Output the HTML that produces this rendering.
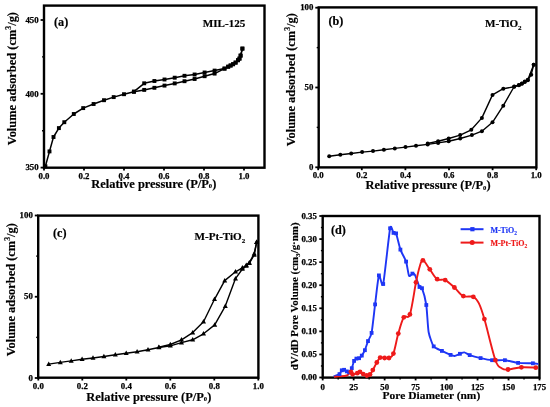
<!DOCTYPE html>
<html><head><meta charset="utf-8"><style>
html,body{margin:0;padding:0;background:#fff;}
body{width:550px;height:407px;overflow:hidden;}
svg{display:block;}
text{font-family:"Liberation Serif", "Times New Roman", serif;font-weight:bold;}
</style></head><body>
<svg width="550" height="407" viewBox="0 0 550 407">
<rect width="550" height="407" fill="#fff"/>
<rect x="44" y="5.6" width="220.5" height="162.1" fill="none" stroke="#000" stroke-width="2.4"/>
<line x1="44" y1="167.7" x2="44" y2="170.5" stroke="#000" stroke-width="1.8"/>
<text x="44" y="179" font-size="8.8" text-anchor="middle" fill="#000"  stroke="#000" stroke-width="0.25">0.0</text>
<line x1="84" y1="167.7" x2="84" y2="170.5" stroke="#000" stroke-width="1.8"/>
<text x="84" y="179" font-size="8.8" text-anchor="middle" fill="#000"  stroke="#000" stroke-width="0.25">0.2</text>
<line x1="124" y1="167.7" x2="124" y2="170.5" stroke="#000" stroke-width="1.8"/>
<text x="124" y="179" font-size="8.8" text-anchor="middle" fill="#000"  stroke="#000" stroke-width="0.25">0.4</text>
<line x1="164" y1="167.7" x2="164" y2="170.5" stroke="#000" stroke-width="1.8"/>
<text x="164" y="179" font-size="8.8" text-anchor="middle" fill="#000"  stroke="#000" stroke-width="0.25">0.6</text>
<line x1="204" y1="167.7" x2="204" y2="170.5" stroke="#000" stroke-width="1.8"/>
<text x="204" y="179" font-size="8.8" text-anchor="middle" fill="#000"  stroke="#000" stroke-width="0.25">0.8</text>
<line x1="244" y1="167.7" x2="244" y2="170.5" stroke="#000" stroke-width="1.8"/>
<text x="244" y="179" font-size="8.8" text-anchor="middle" fill="#000"  stroke="#000" stroke-width="0.25">1.0</text>
<line x1="40.6" y1="167.6" x2="44" y2="167.6" stroke="#000" stroke-width="1.8"/>
<text x="38.6" y="170.4" font-size="8.8" text-anchor="end" fill="#000"  stroke="#000" stroke-width="0.25">350</text>
<line x1="40.6" y1="93.8" x2="44" y2="93.8" stroke="#000" stroke-width="1.8"/>
<text x="38.6" y="96.6" font-size="8.8" text-anchor="end" fill="#000"  stroke="#000" stroke-width="0.25">400</text>
<line x1="40.6" y1="20" x2="44" y2="20" stroke="#000" stroke-width="1.8"/>
<text x="38.6" y="22.8" font-size="8.8" text-anchor="end" fill="#000"  stroke="#000" stroke-width="0.25">450</text>
<line x1="42" y1="130.7" x2="44" y2="130.7" stroke="#000" stroke-width="1.4"/>
<line x1="42" y1="56.9" x2="44" y2="56.9" stroke="#000" stroke-width="1.4"/>
<text transform="translate(91.3,187.7) scale(1.072,1)" font-size="11.6" fill="#000" stroke="#000" stroke-width="0.15">Relative pressure (P/P<tspan font-size="6.2" dy="0.6">0</tspan><tspan dy="-0.6">)</tspan></text>
<text transform="translate(16.2,145.2) rotate(-90) scale(1.072,1)" font-size="11.6" fill="#000" stroke="#000" stroke-width="0.15">Volume adsorbed (cm<tspan font-size="7.2" dy="-5.2">3</tspan><tspan dy="5.2">/g)</tspan></text>
<text x="54" y="26.4" font-size="12.2" text-anchor="start" fill="#000"  stroke="#000" stroke-width="0.18">(a)</text>
<text x="202.8" y="26.8" font-size="11.1" text-anchor="start" fill="#000"  stroke="#000" stroke-width="0.18">MIL-125</text>
<polyline points="45.4,166.3 49.5,151.4 53.5,137 58.9,128.1 64.3,122.2 73.8,114 83.2,108.1 93.6,104 104,100.2 113.7,97.1 124,94.2 133.9,91.8 144.2,89.9 154.4,87.8 164.5,85.6 174.7,83.4 184.5,81.2 194.6,79 204.6,76.2 214.6,73.6 224.5,68.6 228.2,66.7 230.6,65.5 233.1,64.2 235.6,62.6 238,60.2 239.5,58.6 240.6,55.6 242.4,48.6" fill="none" stroke="#000" stroke-width="1.5" stroke-linejoin="round"/>
<polyline points="242.4,48.6 240.6,55.6 239.5,58.6 238,60.2 235.6,62.6 233.1,64.2 230.6,65.5 228.2,66.7 224.5,68.6 214.6,70.6 204.6,72.5 194.6,74.5 184.5,75.8 174.7,77.7 164.5,79.5 154.4,81 144.2,83.3 133.9,91.6" fill="none" stroke="#000" stroke-width="1.5" stroke-linejoin="round"/>
<rect x="43.45" y="164.35" width="3.9" height="3.9" fill="#000"/>
<rect x="47.55" y="149.45" width="3.9" height="3.9" fill="#000"/>
<rect x="51.55" y="135.05" width="3.9" height="3.9" fill="#000"/>
<rect x="56.95" y="126.15" width="3.9" height="3.9" fill="#000"/>
<rect x="62.35" y="120.25" width="3.9" height="3.9" fill="#000"/>
<rect x="71.85" y="112.05" width="3.9" height="3.9" fill="#000"/>
<rect x="81.25" y="106.15" width="3.9" height="3.9" fill="#000"/>
<rect x="91.65" y="102.05" width="3.9" height="3.9" fill="#000"/>
<rect x="102.05" y="98.25" width="3.9" height="3.9" fill="#000"/>
<rect x="111.75" y="95.15" width="3.9" height="3.9" fill="#000"/>
<rect x="122.05" y="92.25" width="3.9" height="3.9" fill="#000"/>
<rect x="131.95" y="89.85" width="3.9" height="3.9" fill="#000"/>
<rect x="142.25" y="87.95" width="3.9" height="3.9" fill="#000"/>
<rect x="152.45" y="85.85" width="3.9" height="3.9" fill="#000"/>
<rect x="162.55" y="83.65" width="3.9" height="3.9" fill="#000"/>
<rect x="172.75" y="81.45" width="3.9" height="3.9" fill="#000"/>
<rect x="182.55" y="79.25" width="3.9" height="3.9" fill="#000"/>
<rect x="192.65" y="77.05" width="3.9" height="3.9" fill="#000"/>
<rect x="202.65" y="74.25" width="3.9" height="3.9" fill="#000"/>
<rect x="212.65" y="71.65" width="3.9" height="3.9" fill="#000"/>
<rect x="222.55" y="66.65" width="3.9" height="3.9" fill="#000"/>
<rect x="226.25" y="64.75" width="3.9" height="3.9" fill="#000"/>
<rect x="228.65" y="63.55" width="3.9" height="3.9" fill="#000"/>
<rect x="231.15" y="62.25" width="3.9" height="3.9" fill="#000"/>
<rect x="233.65" y="60.65" width="3.9" height="3.9" fill="#000"/>
<rect x="236.05" y="58.25" width="3.9" height="3.9" fill="#000"/>
<rect x="237.55" y="56.65" width="3.9" height="3.9" fill="#000"/>
<rect x="238.65" y="53.65" width="3.9" height="3.9" fill="#000"/>
<rect x="240.45" y="46.65" width="3.9" height="3.9" fill="#000"/>
<rect x="240.45" y="46.65" width="3.9" height="3.9" fill="#000"/>
<rect x="238.65" y="53.65" width="3.9" height="3.9" fill="#000"/>
<rect x="237.55" y="56.65" width="3.9" height="3.9" fill="#000"/>
<rect x="236.05" y="58.25" width="3.9" height="3.9" fill="#000"/>
<rect x="233.65" y="60.65" width="3.9" height="3.9" fill="#000"/>
<rect x="231.15" y="62.25" width="3.9" height="3.9" fill="#000"/>
<rect x="228.65" y="63.55" width="3.9" height="3.9" fill="#000"/>
<rect x="226.25" y="64.75" width="3.9" height="3.9" fill="#000"/>
<rect x="222.55" y="66.65" width="3.9" height="3.9" fill="#000"/>
<rect x="212.65" y="68.65" width="3.9" height="3.9" fill="#000"/>
<rect x="202.65" y="70.55" width="3.9" height="3.9" fill="#000"/>
<rect x="192.65" y="72.55" width="3.9" height="3.9" fill="#000"/>
<rect x="182.55" y="73.85" width="3.9" height="3.9" fill="#000"/>
<rect x="172.75" y="75.75" width="3.9" height="3.9" fill="#000"/>
<rect x="162.55" y="77.55" width="3.9" height="3.9" fill="#000"/>
<rect x="152.45" y="79.05" width="3.9" height="3.9" fill="#000"/>
<rect x="142.25" y="81.35" width="3.9" height="3.9" fill="#000"/>
<rect x="131.95" y="89.65" width="3.9" height="3.9" fill="#000"/>
<rect x="318.7" y="7.4" width="217.7" height="160" fill="none" stroke="#000" stroke-width="2.4"/>
<line x1="318.2" y1="167.4" x2="318.2" y2="170.2" stroke="#000" stroke-width="1.8"/>
<text x="318.2" y="178.4" font-size="8.8" text-anchor="middle" fill="#000"  stroke="#000" stroke-width="0.25">0.0</text>
<line x1="361.8" y1="167.4" x2="361.8" y2="170.2" stroke="#000" stroke-width="1.8"/>
<text x="361.8" y="178.4" font-size="8.8" text-anchor="middle" fill="#000"  stroke="#000" stroke-width="0.25">0.2</text>
<line x1="405.4" y1="167.4" x2="405.4" y2="170.2" stroke="#000" stroke-width="1.8"/>
<text x="405.4" y="178.4" font-size="8.8" text-anchor="middle" fill="#000"  stroke="#000" stroke-width="0.25">0.4</text>
<line x1="449" y1="167.4" x2="449" y2="170.2" stroke="#000" stroke-width="1.8"/>
<text x="449" y="178.4" font-size="8.8" text-anchor="middle" fill="#000"  stroke="#000" stroke-width="0.25">0.6</text>
<line x1="492.6" y1="167.4" x2="492.6" y2="170.2" stroke="#000" stroke-width="1.8"/>
<text x="492.6" y="178.4" font-size="8.8" text-anchor="middle" fill="#000"  stroke="#000" stroke-width="0.25">0.8</text>
<line x1="536.2" y1="167.4" x2="536.2" y2="170.2" stroke="#000" stroke-width="1.8"/>
<text x="536.2" y="178.4" font-size="8.8" text-anchor="middle" fill="#000"  stroke="#000" stroke-width="0.25">1.0</text>
<line x1="315.3" y1="167.3" x2="318.7" y2="167.3" stroke="#000" stroke-width="1.8"/>
<text x="313.4" y="169.7" font-size="8.8" text-anchor="end" fill="#000"  stroke="#000" stroke-width="0.25">0</text>
<line x1="315.3" y1="87.5" x2="318.7" y2="87.5" stroke="#000" stroke-width="1.8"/>
<text x="313.4" y="89.9" font-size="8.8" text-anchor="end" fill="#000"  stroke="#000" stroke-width="0.25">50</text>
<line x1="315.3" y1="7.7" x2="318.7" y2="7.7" stroke="#000" stroke-width="1.8"/>
<text x="313.4" y="10.1" font-size="8.8" text-anchor="end" fill="#000"  stroke="#000" stroke-width="0.25">100</text>
<line x1="316.7" y1="127.4" x2="318.7" y2="127.4" stroke="#000" stroke-width="1.4"/>
<line x1="316.7" y1="47.6" x2="318.7" y2="47.6" stroke="#000" stroke-width="1.4"/>
<text transform="translate(365.5,189.2) scale(1.072,1)" font-size="11.6" fill="#000" stroke="#000" stroke-width="0.15">Relative pressure (P/P<tspan font-size="6.2" dy="0.6">0</tspan><tspan dy="-0.6">)</tspan></text>
<text transform="translate(295.4,146.3) rotate(-90) scale(1.072,1)" font-size="11.6" fill="#000" stroke="#000" stroke-width="0.15">Volume adsorbed (cm<tspan font-size="7.2" dy="-5.2">3</tspan><tspan dy="5.2">/g)</tspan></text>
<text x="328.4" y="25.2" font-size="12.2" text-anchor="start" fill="#000"  stroke="#000" stroke-width="0.18">(b)</text>
<text x="485" y="26.9" font-size="11.1" text-anchor="start" fill="#000"  stroke="#000" stroke-width="0.18">M-TiO<tspan font-size="7" dy="3">2</tspan></text>
<polyline points="329.2,156.3 340.3,154.8 351.2,153.5 362.1,152.1 373,151.1 383.9,149.7 394.8,148.4 405.5,147.1 416,145.8 427.7,144.4 438.1,142.9 448.7,141.3 460.2,138.5 471.9,135.1 481.9,131.2 492.5,122.3 503.3,105.7 514.2,86.5 518.9,85 521.9,83.5 524.8,81.6 527.8,79.8 533.7,64.8" fill="none" stroke="#000" stroke-width="1.4" stroke-linejoin="round"/>
<polyline points="533.7,64.8 531.2,74.7 527.8,80.2 524.8,81.9 521.9,83.8 518.9,85.3 514.2,86.7 503.3,88.7 492.5,94.9 481.9,117.9 471.3,129.8 460.2,135.1 448.7,138.5 438.1,141.3 427.7,143.4" fill="none" stroke="#000" stroke-width="1.4" stroke-linejoin="round"/>
<circle cx="329.2" cy="156.3" r="2.0" fill="#000"/>
<circle cx="340.3" cy="154.8" r="2.0" fill="#000"/>
<circle cx="351.2" cy="153.5" r="2.0" fill="#000"/>
<circle cx="362.1" cy="152.1" r="2.0" fill="#000"/>
<circle cx="373" cy="151.1" r="2.0" fill="#000"/>
<circle cx="383.9" cy="149.7" r="2.0" fill="#000"/>
<circle cx="394.8" cy="148.4" r="2.0" fill="#000"/>
<circle cx="405.5" cy="147.1" r="2.0" fill="#000"/>
<circle cx="416" cy="145.8" r="2.0" fill="#000"/>
<circle cx="427.7" cy="144.4" r="2.0" fill="#000"/>
<circle cx="438.1" cy="142.9" r="2.0" fill="#000"/>
<circle cx="448.7" cy="141.3" r="2.0" fill="#000"/>
<circle cx="460.2" cy="138.5" r="2.0" fill="#000"/>
<circle cx="471.9" cy="135.1" r="2.0" fill="#000"/>
<circle cx="481.9" cy="131.2" r="2.0" fill="#000"/>
<circle cx="492.5" cy="122.3" r="2.0" fill="#000"/>
<circle cx="503.3" cy="105.7" r="2.0" fill="#000"/>
<circle cx="514.2" cy="86.5" r="2.0" fill="#000"/>
<circle cx="518.9" cy="85" r="2.0" fill="#000"/>
<circle cx="521.9" cy="83.5" r="2.0" fill="#000"/>
<circle cx="524.8" cy="81.6" r="2.0" fill="#000"/>
<circle cx="527.8" cy="79.8" r="2.0" fill="#000"/>
<circle cx="533.7" cy="64.8" r="2.0" fill="#000"/>
<circle cx="533.7" cy="64.8" r="2.0" fill="#000"/>
<circle cx="531.2" cy="74.7" r="2.0" fill="#000"/>
<circle cx="527.8" cy="80.2" r="2.0" fill="#000"/>
<circle cx="524.8" cy="81.9" r="2.0" fill="#000"/>
<circle cx="521.9" cy="83.8" r="2.0" fill="#000"/>
<circle cx="518.9" cy="85.3" r="2.0" fill="#000"/>
<circle cx="514.2" cy="86.7" r="2.0" fill="#000"/>
<circle cx="503.3" cy="88.7" r="2.0" fill="#000"/>
<circle cx="492.5" cy="94.9" r="2.0" fill="#000"/>
<circle cx="481.9" cy="117.9" r="2.0" fill="#000"/>
<circle cx="471.3" cy="129.8" r="2.0" fill="#000"/>
<circle cx="460.2" cy="135.1" r="2.0" fill="#000"/>
<circle cx="448.7" cy="138.5" r="2.0" fill="#000"/>
<circle cx="438.1" cy="141.3" r="2.0" fill="#000"/>
<circle cx="427.7" cy="143.4" r="2.0" fill="#000"/>
<rect x="38.2" y="215.6" width="220.2" height="162.1" fill="none" stroke="#000" stroke-width="2.4"/>
<line x1="38.3" y1="377.7" x2="38.3" y2="380.5" stroke="#000" stroke-width="1.8"/>
<text x="38.3" y="388.9" font-size="8.8" text-anchor="middle" fill="#000"  stroke="#000" stroke-width="0.25">0.0</text>
<line x1="82.3" y1="377.7" x2="82.3" y2="380.5" stroke="#000" stroke-width="1.8"/>
<text x="82.3" y="388.9" font-size="8.8" text-anchor="middle" fill="#000"  stroke="#000" stroke-width="0.25">0.2</text>
<line x1="126.3" y1="377.7" x2="126.3" y2="380.5" stroke="#000" stroke-width="1.8"/>
<text x="126.3" y="388.9" font-size="8.8" text-anchor="middle" fill="#000"  stroke="#000" stroke-width="0.25">0.4</text>
<line x1="170.3" y1="377.7" x2="170.3" y2="380.5" stroke="#000" stroke-width="1.8"/>
<text x="170.3" y="388.9" font-size="8.8" text-anchor="middle" fill="#000"  stroke="#000" stroke-width="0.25">0.6</text>
<line x1="214.3" y1="377.7" x2="214.3" y2="380.5" stroke="#000" stroke-width="1.8"/>
<text x="214.3" y="388.9" font-size="8.8" text-anchor="middle" fill="#000"  stroke="#000" stroke-width="0.25">0.8</text>
<line x1="258.3" y1="377.7" x2="258.3" y2="380.5" stroke="#000" stroke-width="1.8"/>
<text x="258.3" y="388.9" font-size="8.8" text-anchor="middle" fill="#000"  stroke="#000" stroke-width="0.25">1.0</text>
<line x1="34.8" y1="378" x2="38.2" y2="378" stroke="#000" stroke-width="1.8"/>
<text x="32.8" y="380.6" font-size="8.8" text-anchor="end" fill="#000"  stroke="#000" stroke-width="0.25">0</text>
<line x1="34.8" y1="296.75" x2="38.2" y2="296.75" stroke="#000" stroke-width="1.8"/>
<text x="32.8" y="299.35" font-size="8.8" text-anchor="end" fill="#000"  stroke="#000" stroke-width="0.25">50</text>
<line x1="34.8" y1="215.5" x2="38.2" y2="215.5" stroke="#000" stroke-width="1.8"/>
<text x="32.8" y="218.1" font-size="8.8" text-anchor="end" fill="#000"  stroke="#000" stroke-width="0.25">100</text>
<line x1="36.2" y1="337.38" x2="38.2" y2="337.38" stroke="#000" stroke-width="1.4"/>
<line x1="36.2" y1="256.12" x2="38.2" y2="256.12" stroke="#000" stroke-width="1.4"/>
<text transform="translate(86.3,400.8) scale(1.072,1)" font-size="11.6" fill="#000" stroke="#000" stroke-width="0.15">Relative pressure (P/P<tspan font-size="6.2" dy="0.6">0</tspan><tspan dy="-0.6">)</tspan></text>
<text transform="translate(15,356.3) rotate(-90) scale(1.072,1)" font-size="11.6" fill="#000" stroke="#000" stroke-width="0.15">Volume adsorbed (cm<tspan font-size="7.2" dy="-5.2">3</tspan><tspan dy="5.2">/g)</tspan></text>
<text x="53" y="237" font-size="12.2" text-anchor="start" fill="#000"  stroke="#000" stroke-width="0.18">(c)</text>
<text x="194.5" y="239.7" font-size="11.1" text-anchor="start" fill="#000"  stroke="#000" stroke-width="0.18">M-Pt-TiO<tspan font-size="7" dy="3">2</tspan></text>
<polyline points="48.7,364.1 60.3,362.4 71.2,360.9 82.1,359.3 93,358 103.9,356.5 115.3,354.8 126.2,353.2 137.1,351.7 148,349.7 158.9,347.5 170.3,345.8 181.5,342.7 192.7,339.8 203.5,333.8 214.7,324.9 225.3,306.1 235.5,278.6 242.4,269 246.3,266 249.3,263.3 254.2,255 256.6,242.3" fill="none" stroke="#000" stroke-width="1.4" stroke-linejoin="round"/>
<polyline points="256.6,242.3 254.2,253.7 249.3,262.7 246.3,265.3 242.4,267.8 235.5,271.8 224.7,280.6 214.5,299.3 203.5,321.8 192.7,332.6 181.5,339.8 170.3,344.5 158.9,347.1" fill="none" stroke="#000" stroke-width="1.4" stroke-linejoin="round"/>
<polygon points="46.2,365.9 51.2,365.9 48.7,361.4" fill="#000"/>
<polygon points="57.8,364.2 62.8,364.2 60.3,359.7" fill="#000"/>
<polygon points="68.7,362.7 73.7,362.7 71.2,358.2" fill="#000"/>
<polygon points="79.6,361.1 84.6,361.1 82.1,356.6" fill="#000"/>
<polygon points="90.5,359.8 95.5,359.8 93,355.3" fill="#000"/>
<polygon points="101.4,358.3 106.4,358.3 103.9,353.8" fill="#000"/>
<polygon points="112.8,356.6 117.8,356.6 115.3,352.1" fill="#000"/>
<polygon points="123.7,355 128.7,355 126.2,350.5" fill="#000"/>
<polygon points="134.6,353.5 139.6,353.5 137.1,349" fill="#000"/>
<polygon points="145.5,351.5 150.5,351.5 148,347" fill="#000"/>
<polygon points="156.4,349.3 161.4,349.3 158.9,344.8" fill="#000"/>
<polygon points="167.8,347.6 172.8,347.6 170.3,343.1" fill="#000"/>
<polygon points="179,344.5 184,344.5 181.5,340" fill="#000"/>
<polygon points="190.2,341.6 195.2,341.6 192.7,337.1" fill="#000"/>
<polygon points="201,335.6 206,335.6 203.5,331.1" fill="#000"/>
<polygon points="212.2,326.7 217.2,326.7 214.7,322.2" fill="#000"/>
<polygon points="222.8,307.9 227.8,307.9 225.3,303.4" fill="#000"/>
<polygon points="233,280.4 238,280.4 235.5,275.9" fill="#000"/>
<polygon points="239.9,270.8 244.9,270.8 242.4,266.3" fill="#000"/>
<polygon points="243.8,267.8 248.8,267.8 246.3,263.3" fill="#000"/>
<polygon points="246.8,265.1 251.8,265.1 249.3,260.6" fill="#000"/>
<polygon points="251.7,256.8 256.7,256.8 254.2,252.3" fill="#000"/>
<polygon points="254.1,244.1 259.1,244.1 256.6,239.6" fill="#000"/>
<polygon points="254.1,244.1 259.1,244.1 256.6,239.6" fill="#000"/>
<polygon points="251.7,255.5 256.7,255.5 254.2,251" fill="#000"/>
<polygon points="246.8,264.5 251.8,264.5 249.3,260" fill="#000"/>
<polygon points="243.8,267.1 248.8,267.1 246.3,262.6" fill="#000"/>
<polygon points="239.9,269.6 244.9,269.6 242.4,265.1" fill="#000"/>
<polygon points="233,273.6 238,273.6 235.5,269.1" fill="#000"/>
<polygon points="222.2,282.4 227.2,282.4 224.7,277.9" fill="#000"/>
<polygon points="212,301.1 217,301.1 214.5,296.6" fill="#000"/>
<polygon points="201,323.6 206,323.6 203.5,319.1" fill="#000"/>
<polygon points="190.2,334.4 195.2,334.4 192.7,329.9" fill="#000"/>
<polygon points="179,341.6 184,341.6 181.5,337.1" fill="#000"/>
<polygon points="167.8,346.3 172.8,346.3 170.3,341.8" fill="#000"/>
<polygon points="156.4,348.9 161.4,348.9 158.9,344.4" fill="#000"/>
<rect x="322.7" y="216" width="216.8" height="161.6" fill="none" stroke="#000" stroke-width="2.4"/>
<line x1="322.7" y1="377.6" x2="322.7" y2="380.4" stroke="#000" stroke-width="1.8"/>
<text x="322.7" y="389.6" font-size="8.8" text-anchor="middle" fill="#000"  stroke="#000" stroke-width="0.25">0</text>
<line x1="338.19" y1="377.6" x2="338.19" y2="379.4" stroke="#000" stroke-width="1.4"/>
<line x1="353.67" y1="377.6" x2="353.67" y2="380.4" stroke="#000" stroke-width="1.8"/>
<text x="353.67" y="389.6" font-size="8.8" text-anchor="middle" fill="#000"  stroke="#000" stroke-width="0.25">25</text>
<line x1="369.16" y1="377.6" x2="369.16" y2="379.4" stroke="#000" stroke-width="1.4"/>
<line x1="384.64" y1="377.6" x2="384.64" y2="380.4" stroke="#000" stroke-width="1.8"/>
<text x="384.64" y="389.6" font-size="8.8" text-anchor="middle" fill="#000"  stroke="#000" stroke-width="0.25">50</text>
<line x1="400.13" y1="377.6" x2="400.13" y2="379.4" stroke="#000" stroke-width="1.4"/>
<line x1="415.61" y1="377.6" x2="415.61" y2="380.4" stroke="#000" stroke-width="1.8"/>
<text x="415.61" y="389.6" font-size="8.8" text-anchor="middle" fill="#000"  stroke="#000" stroke-width="0.25">75</text>
<line x1="431.1" y1="377.6" x2="431.1" y2="379.4" stroke="#000" stroke-width="1.4"/>
<line x1="446.59" y1="377.6" x2="446.59" y2="380.4" stroke="#000" stroke-width="1.8"/>
<text x="446.59" y="389.6" font-size="8.8" text-anchor="middle" fill="#000"  stroke="#000" stroke-width="0.25">100</text>
<line x1="462.07" y1="377.6" x2="462.07" y2="379.4" stroke="#000" stroke-width="1.4"/>
<line x1="477.56" y1="377.6" x2="477.56" y2="380.4" stroke="#000" stroke-width="1.8"/>
<text x="477.56" y="389.6" font-size="8.8" text-anchor="middle" fill="#000"  stroke="#000" stroke-width="0.25">125</text>
<line x1="493.04" y1="377.6" x2="493.04" y2="379.4" stroke="#000" stroke-width="1.4"/>
<line x1="508.53" y1="377.6" x2="508.53" y2="380.4" stroke="#000" stroke-width="1.8"/>
<text x="508.53" y="389.6" font-size="8.8" text-anchor="middle" fill="#000"  stroke="#000" stroke-width="0.25">150</text>
<line x1="524.01" y1="377.6" x2="524.01" y2="379.4" stroke="#000" stroke-width="1.4"/>
<line x1="539.5" y1="377.6" x2="539.5" y2="380.4" stroke="#000" stroke-width="1.8"/>
<text x="539.5" y="389.6" font-size="8.8" text-anchor="middle" fill="#000"  stroke="#000" stroke-width="0.25">175</text>
<line x1="319.3" y1="377.5" x2="322.7" y2="377.5" stroke="#000" stroke-width="1.8"/>
<text x="316.8" y="380.3" font-size="8.8" text-anchor="end" fill="#000"  stroke="#000" stroke-width="0.25">0.00</text>
<line x1="320.9" y1="365.96" x2="322.7" y2="365.96" stroke="#000" stroke-width="1.4"/>
<line x1="319.3" y1="354.43" x2="322.7" y2="354.43" stroke="#000" stroke-width="1.8"/>
<text x="316.8" y="357.23" font-size="8.8" text-anchor="end" fill="#000"  stroke="#000" stroke-width="0.25">0.05</text>
<line x1="320.9" y1="342.89" x2="322.7" y2="342.89" stroke="#000" stroke-width="1.4"/>
<line x1="319.3" y1="331.36" x2="322.7" y2="331.36" stroke="#000" stroke-width="1.8"/>
<text x="316.8" y="334.16" font-size="8.8" text-anchor="end" fill="#000"  stroke="#000" stroke-width="0.25">0.10</text>
<line x1="320.9" y1="319.82" x2="322.7" y2="319.82" stroke="#000" stroke-width="1.4"/>
<line x1="319.3" y1="308.29" x2="322.7" y2="308.29" stroke="#000" stroke-width="1.8"/>
<text x="316.8" y="311.09" font-size="8.8" text-anchor="end" fill="#000"  stroke="#000" stroke-width="0.25">0.15</text>
<line x1="320.9" y1="296.75" x2="322.7" y2="296.75" stroke="#000" stroke-width="1.4"/>
<line x1="319.3" y1="285.21" x2="322.7" y2="285.21" stroke="#000" stroke-width="1.8"/>
<text x="316.8" y="288.01" font-size="8.8" text-anchor="end" fill="#000"  stroke="#000" stroke-width="0.25">0.20</text>
<line x1="320.9" y1="273.68" x2="322.7" y2="273.68" stroke="#000" stroke-width="1.4"/>
<line x1="319.3" y1="262.14" x2="322.7" y2="262.14" stroke="#000" stroke-width="1.8"/>
<text x="316.8" y="264.94" font-size="8.8" text-anchor="end" fill="#000"  stroke="#000" stroke-width="0.25">0.25</text>
<line x1="320.9" y1="250.61" x2="322.7" y2="250.61" stroke="#000" stroke-width="1.4"/>
<line x1="319.3" y1="239.07" x2="322.7" y2="239.07" stroke="#000" stroke-width="1.8"/>
<text x="316.8" y="241.87" font-size="8.8" text-anchor="end" fill="#000"  stroke="#000" stroke-width="0.25">0.30</text>
<line x1="320.9" y1="227.54" x2="322.7" y2="227.54" stroke="#000" stroke-width="1.4"/>
<line x1="319.3" y1="216" x2="322.7" y2="216" stroke="#000" stroke-width="1.8"/>
<text x="316.8" y="218.8" font-size="8.8" text-anchor="end" fill="#000"  stroke="#000" stroke-width="0.25">0.35</text>
<text transform="translate(382.6,398.9) scale(1.025,1)" font-size="11.2" fill="#000" stroke="#000" stroke-width="0.15">Pore Diameter (nm)</text>
<text transform="translate(298.2,370.3) rotate(-90) scale(1.02,1)" font-size="10.7" fill="#000" stroke="#000" stroke-width="0.15">dV/dD Pore Volume (cm<tspan font-size="7" dy="2.2">3</tspan><tspan dy="-2.2">/g·nm)</tspan></text>
<text x="330.9" y="234.2" font-size="12.2" text-anchor="start" fill="#000"  stroke="#000" stroke-width="0.18">(d)</text>
<path d="M333.6,376.6 C334.19,376.35 338.68,374.73 339.5,374.1 C340.32,373.47 341.34,370.73 341.8,370.3 C342.26,369.87 343.6,369.69 344.1,369.8 C344.6,369.91 346.3,371.15 346.8,371.4 C347.3,371.65 348.6,372.62 349.1,372.3 C349.6,371.98 351.3,369.34 351.8,368.2 C352.3,367.06 353.64,361.86 354.1,360.9 C354.56,359.94 355.9,358.87 356.4,358.6 C356.9,358.33 358.56,358.5 359.1,358.2 C359.64,357.9 361.22,356.4 361.8,355.6 C362.38,354.8 364.28,351.65 364.9,350.2 C365.52,348.75 367.33,342.83 368,341.1 C368.67,339.37 370.89,336.57 371.6,332.9 C372.31,329.23 374.37,310.15 375.1,304.4 C375.83,298.65 378.09,277.44 378.9,275.4 C379.71,273.36 382.08,288.71 383.2,284 C384.32,279.29 389.07,233.41 390.1,228.3 C391.13,223.19 392.9,232.39 393.5,232.9 C394.1,233.41 395.41,231.73 396.1,233.4 C396.79,235.07 399.4,246.78 400.4,249.6 C401.4,252.42 405.24,258.97 406.1,261.6 C406.96,264.23 408.37,274.7 409,275.9 C409.63,277.1 411.8,273.69 412.4,273.6 C413,273.51 414.29,273.66 415,275 C415.71,276.34 418.8,285.68 419.5,287 C420.2,288.32 421.32,286.4 422,288.2 C422.68,290 425.64,300.62 426.3,305 C426.96,309.38 427.86,327.86 428.6,332 C429.34,336.14 432.37,344.51 433.7,346.4 C435.03,348.29 440.21,350.05 441.9,350.9 C443.59,351.75 449.34,354.39 450.6,354.9 C451.86,355.41 453.57,356.11 454.5,356 C455.43,355.89 458.92,354.16 459.9,353.8 C460.88,353.44 463.32,352.27 464.3,352.4 C465.28,352.53 468.07,354.53 469.7,355.1 C471.33,355.67 478.36,357.59 480.6,358.1 C482.84,358.61 489.67,359.99 492.1,360.2 C494.53,360.41 502.3,359.93 504.9,360.2 C507.5,360.47 515.3,362.59 518.1,362.9 C520.9,363.21 530.87,363.19 532.9,363.3 C534.93,363.41 537.85,363.93 538.4,364" fill="none" stroke="#1e36f5" stroke-width="1.9" stroke-linejoin="round"/>
<path d="M334.1,376.8 C334.85,376.73 336.48,376.62 338.6,376.4 C340.72,376.18 344.75,376.27 346.8,375.5 C348.85,374.73 349.93,372 350.9,371.8 C351.87,371.6 351.53,374.07 352.6,374.3 C353.67,374.53 356.07,373.62 357.3,373.2 C358.53,372.78 359.02,371.65 360,371.8 C360.98,371.95 362.07,373.48 363.2,374.1 C364.33,374.72 365.67,375.43 366.8,375.5 C367.93,375.57 369,375.4 370,374.5 C371,373.6 371.67,372.1 372.8,370.1 C373.93,368.1 375.57,364.58 376.8,362.5 C378.03,360.42 378.9,358.35 380.2,357.6 C381.5,356.85 383.13,357.93 384.6,358 C386.07,358.07 387.53,358.73 389,358 C390.47,357.27 391.85,357.67 393.4,353.6 C394.95,349.53 396.57,339.65 398.3,333.6 C400.03,327.55 401.87,320.5 403.8,317.3 C405.73,314.1 407.87,320.23 409.9,314.4 C411.93,308.57 414.4,290.17 416,282.3 C417.6,274.43 418.35,270.87 419.5,267.2 C420.65,263.53 421.18,259.95 422.9,260.3 C424.62,260.65 427.42,266.15 429.8,269.3 C432.18,272.45 434.63,277.4 437.2,279.2 C439.77,281 442.33,278.72 445.2,280.1 C448.07,281.48 451.38,284.83 454.4,287.5 C457.42,290.17 460.15,294.55 463.3,296.1 C466.45,297.65 470.72,295.62 473.3,296.8 C475.88,297.98 476.95,299.48 478.8,303.2 C480.65,306.92 481.63,309.6 484.4,319.1 C487.17,328.6 492.47,351.98 495.4,360.2 C498.33,368.42 499.9,366.85 502,368.4 C504.1,369.95 504.77,369.68 508,369.5 C511.23,369.32 516.77,367.6 521.4,367.3 C526.03,367 533.4,367.63 535.8,367.7" fill="none" stroke="#ee1a1a" stroke-width="1.9" stroke-linejoin="round"/>
<rect x="337.6" y="372.2" width="3.8" height="3.8" fill="#1e36f5"/>
<rect x="339.9" y="368.4" width="3.8" height="3.8" fill="#1e36f5"/>
<rect x="342.2" y="367.9" width="3.8" height="3.8" fill="#1e36f5"/>
<rect x="344.9" y="369.5" width="3.8" height="3.8" fill="#1e36f5"/>
<rect x="347.2" y="370.4" width="3.8" height="3.8" fill="#1e36f5"/>
<rect x="349.9" y="366.3" width="3.8" height="3.8" fill="#1e36f5"/>
<rect x="352.2" y="359" width="3.8" height="3.8" fill="#1e36f5"/>
<rect x="354.5" y="356.7" width="3.8" height="3.8" fill="#1e36f5"/>
<rect x="357.2" y="356.3" width="3.8" height="3.8" fill="#1e36f5"/>
<rect x="359.9" y="353.7" width="3.8" height="3.8" fill="#1e36f5"/>
<rect x="363" y="348.3" width="3.8" height="3.8" fill="#1e36f5"/>
<rect x="366.1" y="339.2" width="3.8" height="3.8" fill="#1e36f5"/>
<rect x="369.7" y="331" width="3.8" height="3.8" fill="#1e36f5"/>
<rect x="373.2" y="302.5" width="3.8" height="3.8" fill="#1e36f5"/>
<rect x="377" y="273.5" width="3.8" height="3.8" fill="#1e36f5"/>
<rect x="381.3" y="282.1" width="3.8" height="3.8" fill="#1e36f5"/>
<rect x="388.2" y="226.4" width="3.8" height="3.8" fill="#1e36f5"/>
<rect x="391.6" y="231" width="3.8" height="3.8" fill="#1e36f5"/>
<rect x="394.2" y="231.5" width="3.8" height="3.8" fill="#1e36f5"/>
<rect x="398.5" y="247.7" width="3.8" height="3.8" fill="#1e36f5"/>
<rect x="404.2" y="259.7" width="3.8" height="3.8" fill="#1e36f5"/>
<rect x="410.5" y="271.7" width="3.8" height="3.8" fill="#1e36f5"/>
<rect x="417.6" y="285.1" width="3.8" height="3.8" fill="#1e36f5"/>
<rect x="420.1" y="286.3" width="3.8" height="3.8" fill="#1e36f5"/>
<rect x="424.4" y="303.1" width="3.8" height="3.8" fill="#1e36f5"/>
<rect x="431.8" y="344.5" width="3.8" height="3.8" fill="#1e36f5"/>
<rect x="440" y="349" width="3.8" height="3.8" fill="#1e36f5"/>
<rect x="448.7" y="353" width="3.8" height="3.8" fill="#1e36f5"/>
<rect x="458" y="351.9" width="3.8" height="3.8" fill="#1e36f5"/>
<rect x="467.8" y="353.2" width="3.8" height="3.8" fill="#1e36f5"/>
<rect x="478.7" y="356.2" width="3.8" height="3.8" fill="#1e36f5"/>
<rect x="490.2" y="358.3" width="3.8" height="3.8" fill="#1e36f5"/>
<rect x="503" y="358.3" width="3.8" height="3.8" fill="#1e36f5"/>
<rect x="516.2" y="361" width="3.8" height="3.8" fill="#1e36f5"/>
<rect x="531" y="361.4" width="3.8" height="3.8" fill="#1e36f5"/>
<circle cx="350.9" cy="371.8" r="2.4" fill="#ee1a1a"/>
<circle cx="352.6" cy="374.3" r="2.4" fill="#ee1a1a"/>
<circle cx="357.3" cy="373.2" r="2.4" fill="#ee1a1a"/>
<circle cx="360" cy="371.8" r="2.4" fill="#ee1a1a"/>
<circle cx="363.2" cy="374.1" r="2.4" fill="#ee1a1a"/>
<circle cx="366.8" cy="375.5" r="2.4" fill="#ee1a1a"/>
<circle cx="370" cy="374.5" r="2.4" fill="#ee1a1a"/>
<circle cx="372.8" cy="370.1" r="2.4" fill="#ee1a1a"/>
<circle cx="376.8" cy="362.5" r="2.4" fill="#ee1a1a"/>
<circle cx="380.2" cy="357.6" r="2.4" fill="#ee1a1a"/>
<circle cx="384.6" cy="358" r="2.4" fill="#ee1a1a"/>
<circle cx="389" cy="358" r="2.4" fill="#ee1a1a"/>
<circle cx="393.4" cy="353.6" r="2.4" fill="#ee1a1a"/>
<circle cx="398.3" cy="333.6" r="2.4" fill="#ee1a1a"/>
<circle cx="403.8" cy="317.3" r="2.4" fill="#ee1a1a"/>
<circle cx="409.9" cy="314.4" r="2.4" fill="#ee1a1a"/>
<circle cx="416" cy="282.3" r="2.4" fill="#ee1a1a"/>
<circle cx="422.9" cy="260.3" r="2.4" fill="#ee1a1a"/>
<circle cx="429.8" cy="269.3" r="2.4" fill="#ee1a1a"/>
<circle cx="437.2" cy="279.2" r="2.4" fill="#ee1a1a"/>
<circle cx="445.2" cy="280.1" r="2.4" fill="#ee1a1a"/>
<circle cx="454.4" cy="287.5" r="2.4" fill="#ee1a1a"/>
<circle cx="463.3" cy="296.1" r="2.4" fill="#ee1a1a"/>
<circle cx="473.3" cy="296.8" r="2.4" fill="#ee1a1a"/>
<circle cx="484.4" cy="319.1" r="2.4" fill="#ee1a1a"/>
<circle cx="495.4" cy="360.2" r="2.4" fill="#ee1a1a"/>
<circle cx="508" cy="369.5" r="2.4" fill="#ee1a1a"/>
<circle cx="521.4" cy="367.3" r="2.4" fill="#ee1a1a"/>
<circle cx="535.8" cy="367.7" r="2.4" fill="#ee1a1a"/>
<line x1="460.6" y1="229.2" x2="483.5" y2="229.2" stroke="#1e36f5" stroke-width="2"/>
<rect x="470.3" y="227.1" width="4.2" height="4.2" fill="#1e36f5"/>
<line x1="460.6" y1="242.6" x2="483.5" y2="242.6" stroke="#ee1a1a" stroke-width="2"/>
<circle cx="472.2" cy="242.6" r="2.5" fill="#ee1a1a"/>
<text x="490.4" y="232.9" font-size="8" text-anchor="start" fill="#1e36f5"  stroke="#1e36f5" stroke-width="0.15">M-TiO<tspan font-size="5.5" dy="1.8">2</tspan></text>
<text x="490.4" y="246.3" font-size="8" text-anchor="start" fill="#ee1a1a"  stroke="#ee1a1a" stroke-width="0.15">M-Pt-TiO<tspan font-size="5.5" dy="1.8">2</tspan></text>
</svg>
</body></html>
